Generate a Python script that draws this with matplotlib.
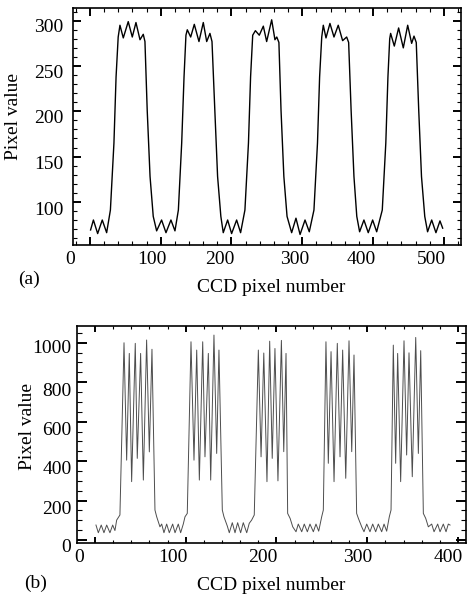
import matplotlib
matplotlib.use('Agg')
import matplotlib.pyplot as plt
from matplotlib.ticker import MultipleLocator
from matplotlib.transforms import ScaledTranslation

plt.rcParams['font.family'] = ['Liberation Serif', 'DejaVu Serif']

# ---------------- data: panel (a) ----------------
a1_x = [1, 5, 11, 17.5, 23.7, 29, 34, 37, 40, 42.5, 47.2, 54.2, 59.9, 65.1, 70.8, 75.4, 77.8,
        81, 85, 89.5, 94.3, 101.3, 107.5, 114.5, 120.2]
a1_y = [69, 80, 65, 80, 66, 91, 165, 238, 282, 295, 281, 299, 282, 298, 279, 285, 277,
        201, 128, 84, 68, 80, 66, 80, 68]
a2_x = [125, 129.7, 133, 135.7, 137.6, 142.4, 147.5, 154.1, 160.2, 165, 169.6, 172.5,
        176.5, 180.4, 185, 188.4, 194.6, 200.2, 207.3, 212.9]
a2_y = [91, 165, 238, 284, 290, 282, 296, 277, 298, 277, 286, 277,
        201, 128, 84, 66, 80, 65, 80, 66]
a3_x = [219, 224, 227, 230, 233.8, 239.3, 245, 249.7, 256.8, 261.4, 264, 267,
        270, 274, 278.5, 285, 291.1, 296.9, 303.9, 309.9]
a3_y = [91, 165, 238, 284, 289, 284, 294, 277, 301, 279, 282, 276,
        201, 128, 84, 66, 82, 64, 80, 67]
a4_x = [316.5, 321.5, 324.5, 327.5, 329.7, 333.5, 339.1, 344.8, 350.8, 357, 362.7, 365.5,
        369, 373, 377, 381, 387.1, 393.2, 399.4, 405.1]
a4_y = [91, 165, 238, 282, 295, 281, 297, 282, 295, 278, 282, 276,
        201, 128, 84, 67, 80, 66, 80, 67]
a5_x = [413, 418, 421, 423.5, 424.8, 430, 436.1, 442.7, 448.9, 454.5, 457.8, 461,
        464.5, 468.4, 473, 477, 482.8, 488.8, 494.5, 498.3]
a5_y = [91, 165, 238, 280, 286, 272, 292, 270, 295, 275, 283, 276,
        201, 128, 84, 67, 80, 66, 79, 71]

# ---------------- data: panel (b) ----------------
b0_x = [1.1, 3.7, 6.9, 9.9, 12.9, 16.5, 19.5, 22, 23.9, 27.5]
b0_y = [76, 37, 76, 37, 76, 37, 76, 48, 101, 127]
b1_x = [32.0, 34.9, 37.8, 40.4, 44.4, 46.6, 50.3, 53.3, 56.9, 59.9, 62.8, 66.1, 68, 71.6]
b1_y = [1000, 405, 946, 296, 997, 414, 946, 304, 1014, 447, 967, 152, 118, 67]
g1_x = [73.5, 76, 79, 81.9, 85.6, 88.2, 91.8, 94.4, 97.3, 99.2, 101.7]
g1_y = [81, 37, 81, 37, 81, 37, 81, 37, 81, 118, 135]
b2_x = [105.8, 109.1, 112.1, 115, 118.7, 121.2, 124.9, 127.5, 131.1, 134.1, 136.6, 140.3, 142.1, 145.8]
b2_y = [1005, 405, 963, 304, 1005, 422, 946, 304, 1039, 439, 963, 152, 118, 71]
g2_x = [148, 151.3, 154.3, 157.2, 160.5, 163.4, 167.2, 170, 172.6, 175.5]
g2_y = [37, 88, 37, 88, 37, 88, 37, 85, 101, 127]
b3_x = [180, 183, 186, 189.5, 192.5, 195.3, 198.3, 201.6, 205.4, 208, 210.5, 212.3, 215, 217.9]
b3_y = [963, 422, 948, 296, 1008, 414, 971, 300, 1012, 448, 946, 135, 110, 67]
g3_x = [221.5, 224, 227.8, 230.6, 234, 236.9, 240.6, 243.5, 246.5, 249.8, 251.6]
g3_y = [42, 81, 42, 81, 42, 81, 42, 81, 45, 118, 152]
b4_x = [254.5, 257.1, 260.1, 263.4, 267, 270, 272.9, 276.3, 279.9, 282.9, 285.4, 288.3, 290.2, 293.9]
b4_y = [1005, 389, 955, 296, 997, 422, 963, 313, 1010, 448, 938, 135, 110, 67]
g4_x = [296.4, 299.4, 303, 306, 309.3, 312.2, 315.9, 318.5, 321.4, 324.3, 326.2]
g4_y = [42, 81, 42, 81, 42, 81, 42, 81, 45, 118, 152]
b5_x = [328.7, 331.3, 333.5, 336.8, 340.5, 343.4, 346, 349.6, 353.4, 356.3, 358.9, 361.8, 364.4, 367.3]
b5_y = [988, 389, 946, 296, 1010, 431, 949, 321, 1027, 439, 960, 135, 110, 67]
g5_x = [371, 373.6, 377.6, 380.2, 383.8, 386.8, 389.3, 391.2]
g5_y = [81, 42, 81, 42, 81, 42, 81, 76]

a_xticks = [0, 100, 200, 300, 400, 500]
a_yticks = [100, 150, 200, 250, 300]
b_xticks = [0, 100, 200, 300, 400]
b_yticks = [0, 200, 400, 600, 800, 1000]

xa = a1_x + a2_x + a3_x + a4_x + a5_x
ya = a1_y + a2_y + a3_y + a4_y + a5_y
xb = b0_x + b1_x + g1_x + b2_x + g2_x + b3_x + g3_x + b4_x + g4_x + b5_x + g5_x
yb = b0_y + b1_y + g1_y + b2_y + g2_y + b3_y + g3_y + b4_y + g4_y + b5_y + g5_y

# ---------------- layout ----------------
W, H, DPI = 474, 594, 100
fig = plt.figure(figsize=(W / DPI, H / DPI), dpi=DPI)


def px_rect(l, t, r, b):
    return [l / W, 1 - b / H, (r - l) / W, (b - t) / H]


axa = fig.add_axes(px_rect(73.3, 8.3, 461, 245))
axb = fig.add_axes(px_rect(77, 326, 466, 543))

axa.plot(xa, ya, color='black', lw=1.0)
axb.plot(xb, yb, color='0.3', lw=0.7)

axa.set_xlim(-23.4, 524.2)
axa.set_ylim(52.4, 313.7)
axb.set_xlim(-19.8, 408.8)
axb.set_ylim(-15, 1085)

FS = 14
for ax in (axa, axb):
    for s in ax.spines.values():
        s.set_linewidth(1.2)
    ax.tick_params(which='both', direction='in', top=True, right=True, labelsize=FS)

axa.set_xticks(a_xticks)
axa.set_yticks(a_yticks)
axa.xaxis.set_minor_locator(MultipleLocator(20))
axa.yaxis.set_minor_locator(MultipleLocator(10))
axa.tick_params(axis='x', which='major', length=5.5, width=1.4, pad=4.5)
axa.tick_params(axis='x', which='minor', length=2.9, width=0.8)
axa.tick_params(axis='y', which='major', length=5.8, width=1.4, pad=7.2)
axa.tick_params(axis='y', which='minor', length=3.0, width=0.8)

axb.set_xticks(b_xticks)
axb.set_yticks(b_yticks)
axb.xaxis.set_minor_locator(MultipleLocator(20))
axb.yaxis.set_minor_locator(MultipleLocator(50))
axb.tick_params(axis='x', which='major', length=4.5, width=1.4, pad=4.5)
axb.tick_params(axis='x', which='minor', length=2.3, width=0.8)
axb.tick_params(axis='y', which='major', length=7.5, width=1.4, pad=4.0)
axb.tick_params(axis='y', which='minor', length=3.6, width=0.8)


def shift_labels(labels, offsets, axis):
    for lab, d in zip(labels, offsets):
        if axis == 'x':
            off = ScaledTranslation(d / DPI, 0, fig.dpi_scale_trans)
        else:
            off = ScaledTranslation(0, -d / DPI, fig.dpi_scale_trans)
        lab.set_transform(lab.get_transform() + off)


# the printed tick labels sit slightly off their tick marks in the original
shift_labels(axa.get_xticklabels(), [-20, -9, -12, -8, -12, -12], 'x')
shift_labels(axa.get_yticklabels(), [6.3, 6.0, 5.7, 5.7, 4.3], 'y')
shift_labels(axb.get_xticklabels(), [-16, -12.7, -13.7, -10, -9.7], 'x')
shift_labels(axb.get_yticklabels(), [5, 6.7, 6, 7, 7.3, 4], 'y')


def ftext(x, y, s, **kw):
    fig.text(x / W, 1 - y / H, s, ha='center', va='center', fontsize=FS, **kw)


ftext(14, 116, 'Pixel value', rotation=90)
ftext(270.8, 288, 'CCD pixel number')
ftext(29, 279, '(a)')
ftext(27, 426.5, 'Pixel value', rotation=90)
ftext(270.8, 585.5, 'CCD pixel number')
ftext(36, 583, '(b)')

fig.savefig('out.png', dpi=DPI)
